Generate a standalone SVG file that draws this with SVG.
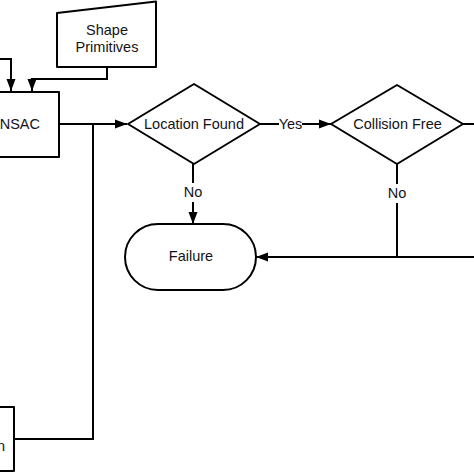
<svg xmlns="http://www.w3.org/2000/svg" width="474" height="474" viewBox="0 0 474 474">
<style>
.shape{fill:#fff;stroke:#000;stroke-width:2;stroke-linejoin:round}
.line{fill:none;stroke:#000;stroke-width:2}
.t{font-family:"Liberation Sans",Arial,sans-serif;font-size:14.5px;fill:#141414;text-anchor:middle}
</style>
<defs>
<marker id="arr" viewBox="0 0 12 10" refX="12" refY="5" markerWidth="12" markerHeight="10" markerUnits="userSpaceOnUse" orient="auto">
<path d="M0,0.5 L12,5 L0,9.5 Z" fill="#000"/>
</marker>
</defs>
<rect width="474" height="474" fill="#fff"/>
<g id="connectors">
<path class="line" d="M0,59 H11 V91" marker-end="url(#arr)"/>
<path class="line" d="M107,67 V79 H32 V91" marker-end="url(#arr)"/>
<path class="line" d="M59,124 H127" marker-end="url(#arr)"/>
<path class="line" d="M93,124 V439 H14"/>
<path class="line" d="M260,124 H279"/>
<path class="line" d="M302,124 H331" marker-end="url(#arr)"/>
<path class="line" d="M463,124 H474"/>
<path class="line" d="M193,164 V183"/>
<path class="line" d="M193,202 V224" marker-end="url(#arr)"/>
<path class="line" d="M397,164 V184"/>
<path class="line" d="M397,203 V257"/>
<path class="line" d="M474,257 H256" marker-end="url(#arr)"/>
<text class="t" x="290.5" y="129">Yes</text>
<text class="t" x="193" y="197">No</text>
<text class="t" x="397" y="198">No</text>
</g>
<g id="shape-primitives">
<path class="shape" d="M57,13 L156,1.5 V67 H57 Z"/>
<text class="t" x="107" y="35">Shape</text>
<text class="t" x="107" y="52">Primitives</text>
</g>
<g id="ransac">
<rect class="shape" x="-40" y="92" width="99" height="65"/>
<text class="t" x="40" y="129" style="text-anchor:end">RANSAC</text>
</g>
<g id="location-found">
<path class="shape" d="M128,124 L194,84 L260,124 L194,164 Z"/>
<text class="t" x="194" y="129">Location Found</text>
</g>
<g id="collision-free">
<path class="shape" d="M331,124 L397,85 L463,124 L397,164 Z"/>
<text class="t" x="397.5" y="129">Collision Free</text>
</g>
<g id="failure">
<rect class="shape" x="125" y="224" width="131" height="66" rx="33" ry="33"/>
<text class="t" x="191" y="261">Failure</text>
</g>
<g id="bottom-left">
<rect class="shape" x="-60" y="407" width="74" height="64"/>
<text class="t" x="5" y="451" style="text-anchor:end">n</text>
</g>
</svg>
